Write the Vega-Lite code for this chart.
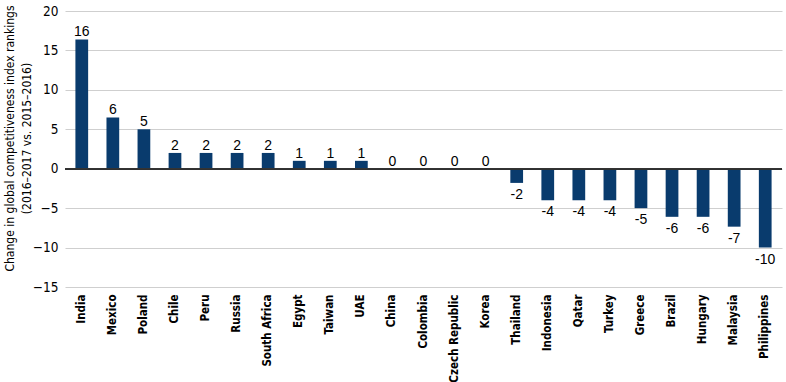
{
  "$schema": "https://vega.github.io/schema/vega-lite/v6.json",
  "autosize": {"type": "none"},
  "padding": {"left": 65, "top": 11, "right": 4, "bottom": 95},
  "width": 717,
  "height": 276,
  "background": "white",
  "config": {
    "view": {"stroke": null},
    "axis": {"labelFont": "DejaVu Sans Condensed, Liberation Sans, sans-serif", "titleFont": "DejaVu Sans Condensed, Liberation Sans, sans-serif", "labelColor": "#000", "titleColor": "#000"}
  },
  "data": {
    "values": [
      {"country": "India", "value": 16.4, "label": "16"},
      {"country": "Mexico", "value": 6.5, "label": "6"},
      {"country": "Poland", "value": 5.0, "label": "5"},
      {"country": "Chile", "value": 2.0, "label": "2"},
      {"country": "Peru", "value": 2.0, "label": "2"},
      {"country": "Russia", "value": 2.0, "label": "2"},
      {"country": "South Africa", "value": 2.0, "label": "2"},
      {"country": "Egypt", "value": 1.0, "label": "1"},
      {"country": "Taiwan", "value": 1.0, "label": "1"},
      {"country": "UAE", "value": 1.0, "label": "1"},
      {"country": "China", "value": 0, "label": "0"},
      {"country": "Colombia", "value": 0, "label": "0"},
      {"country": "Czech Republic", "value": 0, "label": "0"},
      {"country": "Korea", "value": 0, "label": "0"},
      {"country": "Thailand", "value": -1.8, "label": "-2"},
      {"country": "Indonesia", "value": -4.0, "label": "-4"},
      {"country": "Qatar", "value": -4.0, "label": "-4"},
      {"country": "Turkey", "value": -4.0, "label": "-4"},
      {"country": "Greece", "value": -5.0, "label": "-5"},
      {"country": "Brazil", "value": -6.1, "label": "-6"},
      {"country": "Hungary", "value": -6.1, "label": "-6"},
      {"country": "Malaysia", "value": -7.35, "label": "-7"},
      {"country": "Philippines", "value": -10.0, "label": "-10"}
    ]
  },
  "encoding": {
    "x": {
      "field": "country", "type": "nominal", "sort": null,
      "scale": {"paddingInner": 0.59, "paddingOuter": 0.335},
      "axis": {"title": null, "labelAngle": -90, "labelAlign": "right", "labelBaseline": "middle", "labelFontSize": 11.5, "labelFontWeight": "bold", "labelPadding": 7, "domain": false, "ticks": false, "grid": false, "labelOverlap": false}
    },
    "y": {
      "field": "value", "type": "quantitative",
      "scale": {"domain": [-15, 20], "nice": false},
      "axis": {
        "title": ["Change in global competitiveness index rankings", "(2016–2017 vs. 2015–2016)"],
        "titleFontSize": 12, "titleFontWeight": "normal", "titleLineHeight": 17,
        "titleAngle": -90, "titleAlign": "center", "titleBaseline": "top", "titleX": -61, "titleY": 127,
        "values": [-15, -10, -5, 0, 5, 10, 15, 20], "labelOverlap": false, "tickCount": 8,
        "labelFontSize": 13.5, "labelPadding": 7,
        "domain": false, "ticks": false, "grid": true, "gridColor": "#cfcfcf", "gridWidth": 1.2
      }
    }
  },
  "layer": [
    {
      "mark": {"type": "bar", "color": "#093b6d"}
    },
    {
      "mark": {"type": "rule", "color": "#333", "strokeWidth": 1.2},
      "encoding": {"y": {"datum": 0}, "x": null}
    },
    {
      "transform": [{"filter": "datum.value >= 0"}],
      "mark": {"type": "text", "baseline": "alphabetic", "dy": -3, "font": "Liberation Sans", "fontSize": 14, "color": "#000"},
      "encoding": {"text": {"field": "label"}}
    },
    {
      "transform": [{"filter": "datum.value < 0"}],
      "mark": {"type": "text", "baseline": "top", "dy": 5, "font": "Liberation Sans", "fontSize": 14, "color": "#000"},
      "encoding": {"text": {"field": "label"}}
    }
  ]
}
